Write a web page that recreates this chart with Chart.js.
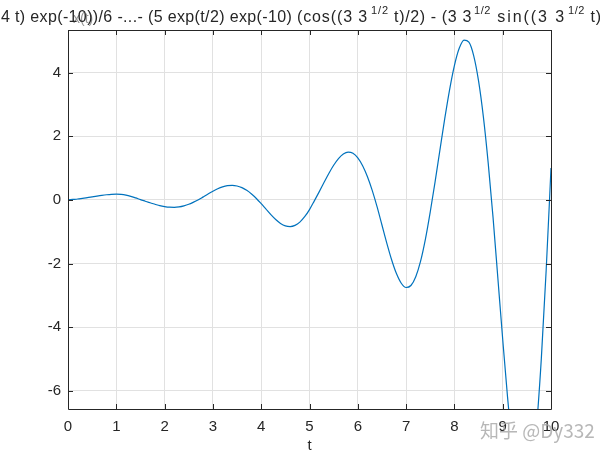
<html>
  <head>
    <script src="https://cdn.jsdelivr.net/npm/chart.js"></script>
    <style>
      body { margin: 0; background: #ffffff; }
      canvas { display: block; }
    </style>
  </head>

  <body>
    <canvas id="myChart" width="600" height="456"></canvas>
    <script>
      // values, every 0.1 in t
      const tValues = [0, 0.1, 0.2, 0.3, 0.4, 0.5, 0.6, 0.7, 0.8, 0.9, 1.0, 1.1, 1.2, 1.3, 1.4, 1.5, 1.6, 1.7, 1.8,
        1.9, 2.0, 2.1, 2.2, 2.3, 2.4, 2.5, 2.6, 2.7, 2.8, 2.9, 3.0, 3.1, 3.2, 3.3, 3.4, 3.5, 3.6, 3.7, 3.8, 3.9, 4.0,
        4.1, 4.2, 4.3, 4.4, 4.5, 4.6, 4.7, 4.8, 4.9, 5.0, 5.1, 5.2, 5.3, 5.4, 5.5, 5.6, 5.7, 5.8, 5.9, 6.0, 6.1, 6.2,
        6.3, 6.4, 6.5, 6.6, 6.7, 6.8, 6.9, 7.0, 7.1, 7.2, 7.3, 7.4, 7.5, 7.6, 7.7, 7.8, 7.9, 8.0, 8.1, 8.2, 8.3, 8.4,
        8.5, 8.6, 8.7, 8.8, 8.9, 9.0, 9.1, 9.2, 9.3, 9.4, 9.5, 9.6, 9.7, 9.8, 9.9, 10.0]
      const xValues = [0, 0.015, 0.03, 0.05, 0.07, 0.095, 0.12, 0.143, 0.162, 0.175, 0.18, 0.174, 0.152, 0.114,
        0.064, 0.01, -0.04, -0.09, -0.135, -0.18, -0.21, -0.229, -0.232, -0.218, -0.185, -0.137, -0.07, 0.005,
        0.096, 0.186, 0.272, 0.349, 0.409, 0.448, 0.458, 0.438, 0.386, 0.301, 0.186, 0.046, -0.118, -0.292, -0.463,
        -0.615, -0.737, -0.815, -0.838, -0.80, -0.697, -0.528, -0.303, -0.03, 0.253, 0.546, 0.831, 1.089, 1.30,
        1.444, 1.504, 1.467, 1.324, 1.076, 0.729, 0.294, -0.218, -0.788, -1.355, -1.879, -2.315, -2.618, -2.752,
        -2.689, -2.412, -1.926, -1.234, -0.378, 0.57, 1.566, 2.553, 3.461, 4.222, 4.765, 5.024, 4.958, 4.529, 3.739,
        2.608, 1.156, -0.549, -2.46, -4.38, -6.19, -7.73, -8.84, -9.43, -9.37, -8.62, -7.14, -4.98, -2.21, 1.0]
      const xTicks = [0, 1, 2, 3, 4, 5, 6, 7, 8, 9, 10]
      const yTicks = [-6, -4, -2, 0, 2, 4]
      const yMin = -6.57
      const yMax = 5.34

      // title pieces: text, superscript?, left and right edge on the canvas
      const titleParts = [
        ["4 t) exp(-10))/6 -...- (5 exp(t/2) exp(-10) ", false, 1, 297],
        ["(cos((3 3", false, 297, 368],
        ["1/2", true, 371, 389],
        [" t)/2) - (3 3", false, 389, 472],
        ["1/2", true, 474, 491],
        [" sin((3 3", false, 491, 566],
        ["1/2", true, 568, 585],
        [" t)/2))", false, 585, 630]
      ]

      const ink = "#262626"
      const fontName = "'Liberation Sans', Arial, sans-serif"

      const frame = {
        id: "frame",
        afterDraw(chart) {
          const ctx = chart.ctx
          const a = chart.chartArea
          const sx = chart.scales.x
          const sy = chart.scales.y
          ctx.save()
          ctx.strokeStyle = ink
          ctx.lineWidth = 1
          ctx.beginPath()
          ctx.rect(Math.round(a.left) + 0.5, Math.round(a.top) + 0.5,
            Math.round(a.right - a.left), Math.round(a.bottom - a.top))
          // inward ticks
          const len = 5
          xTicks.forEach(function (v) {
            const px = Math.round(sx.getPixelForValue(v)) + 0.5
            ctx.moveTo(px, a.bottom); ctx.lineTo(px, a.bottom - len)
            ctx.moveTo(px, a.top); ctx.lineTo(px, a.top + len)
          })
          yTicks.forEach(function (v) {
            const py = Math.round(sy.getPixelForValue(v)) + 0.5
            ctx.moveTo(a.left, py); ctx.lineTo(a.left + len, py)
            ctx.moveTo(a.right, py); ctx.lineTo(a.right - len, py)
          })
          ctx.stroke()

          // title, each piece spread over its span with letter spacing
          ctx.fillStyle = ink
          ctx.textBaseline = "alphabetic"
          for (const [text, sup, x0, x1] of titleParts) {
            ctx.font = (sup ? "11px " : "16px ") + fontName
            ctx.letterSpacing = "0px"
            const w = ctx.measureText(text).width
            const ls = (x1 - x0 - w) / text.length
            ctx.letterSpacing = ls.toFixed(2) + "px"
            ctx.fillText(text, x0, sup ? 14 : 22)
          }
          ctx.letterSpacing = "0px"

          // y label that overlaps the title
          ctx.fillStyle = "rgba(60,60,60,0.55)"
          ctx.font = "14px " + fontName
          ctx.fillText("x(t)", 73, 23)

          // watermark
          ctx.fillStyle = "rgba(165,165,165,0.8)"
          ctx.font = "19px 'Noto Sans CJK SC'"
          ctx.textBaseline = "middle"
          ctx.fillText("知乎 @Dy332", 480, 431)
          ctx.restore()
        }
      }

      const data = {
        datasets: [
          {
            label: "x(t)",
            data: tValues.map(function (t, i) {
              return { x: t, y: xValues[i] }
            }),
            borderColor: "#0072BD",
            borderWidth: 1.2,
            pointRadius: 0,
            cubicInterpolationMode: "monotone"
          }
        ]
      }

      const config = {
        type: "line",
        data: data,
        options: {
          responsive: false,
          animation: false,
          devicePixelRatio: 1,
          layout: { padding: { top: 30, right: 49, left: 0, bottom: 0 } },
          plugins: { legend: { display: false }, tooltip: { enabled: false } },
          scales: {
            x: {
              type: "linear",
              min: 0,
              max: 10,
              afterBuildTicks: function (scale) {
                scale.ticks = xTicks.map(function (v) { return { value: v } })
              },
              afterFit: function (scale) { scale.height = 47 },
              grid: { color: "#e1e1e1", drawTicks: false },
              border: { display: false },
              ticks: { color: ink, font: { size: 15, family: fontName }, padding: 9, maxRotation: 0 },
              title: {
                display: true, text: "t", color: ink,
                font: { size: 15, family: fontName }, padding: { top: 0, bottom: 1 }
              }
            },
            y: {
              type: "linear",
              min: yMin,
              max: yMax,
              afterBuildTicks: function (scale) {
                scale.ticks = yTicks.map(function (v) { return { value: v } })
              },
              afterFit: function (scale) { scale.width = 68 },
              grid: { color: "#e1e1e1", drawTicks: false },
              border: { display: false },
              ticks: { color: ink, font: { size: 15, family: fontName }, padding: 7 }
            }
          }
        },
        plugins: [frame]
      }
      const myChart = new Chart(document.getElementById("myChart"), config)
    </script>
  </body>
</html>
